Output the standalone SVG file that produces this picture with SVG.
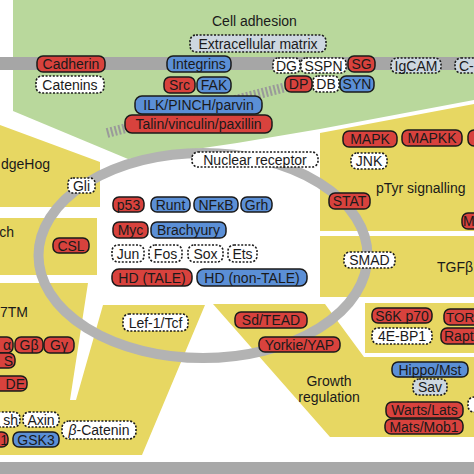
<svg xmlns="http://www.w3.org/2000/svg" width="474" height="474" viewBox="0 0 474 474">
<style>
text{font-family:"Liberation Sans",Arial,sans-serif;font-size:14px;fill:#1a1a1a}
.bx text{text-anchor:middle}
.r rect{fill:#d8423d;stroke:#1a1a1a;stroke-width:1.5}
.b rect{fill:#5b8fd6;stroke:#1a1a1a;stroke-width:1.5}
.w rect{fill:#ffffff;stroke:#1a1a1a;stroke-width:1.6;stroke-dasharray:2 1.6}
.g rect{fill:#cdd7e0;stroke:#1a1a1a;stroke-width:1.6;stroke-dasharray:2 1.6}
.green{fill:#b9d89c}
.yel{fill:#e7d762}
.st{text-anchor:start !important}
.en{text-anchor:end !important}
</style>
<rect x="0" y="0" width="474" height="474" fill="#ffffff"/>
<g id="regions">
<polygon class="green" points="13,0 474,0 474,100 320,129 237,143 128,159 13,111"/>
<polygon class="yel" points="0,125 100,162 100,207 0,207"/>
<rect class="yel" x="0" y="218" width="97" height="57"/>
<polygon class="yel" points="0,283 88,283 70,400 76,400 103,305 205,305 142,455 0,455"/>
<polygon class="yel" points="213,304 325,304 364,357 474,357 474,437 330,437"/>
<polygon class="yel" points="320,133 474,104 474,231 320,231"/>
<rect class="yel" x="320" y="236" width="154" height="61"/>
<rect class="yel" x="365" y="303" width="109" height="50"/>
<rect x="0" y="57" width="474" height="13" fill="#a6a6a6"/>
<rect x="0" y="462" width="474" height="12" fill="#a8a8a8"/>
<ellipse cx="203" cy="255.5" rx="164.5" ry="102.5" fill="none" stroke="#b3b3b3" stroke-width="10"/>
</g>
<g id="labels">
<text x="212" y="26">Cell adhesion</text>
<text x="376" y="193">pTyr signalling</text>
<text x="437" y="272">TGFβ</text>
<text x="329" y="386" text-anchor="middle">Growth</text>
<text x="329" y="402" text-anchor="middle">regulation</text>
<text x="1" y="169">dgeHog</text>
<text x="14" y="237" text-anchor="end">ch</text>
<text x="0" y="317">7TM</text>
</g>
<g id="connectors">
<line x1="107" y1="133" x2="290" y2="86" stroke="#9a9a9a" stroke-width="10" stroke-dasharray="2 2"/>
</g>
<g class="bx">
<g id="cadherin" class="r"><rect x="37" y="56" width="68" height="16" rx="6"/><text x="71" y="69">Cadherin</text></g>
<g id="catenins" class="w"><rect x="36" y="76" width="68" height="17" rx="6"/><text x="70" y="89.5">Catenins</text></g>
<g id="integrins" class="b"><rect x="167" y="56" width="64" height="16" rx="6"/><text x="199" y="69">Integrins</text></g>
<g id="src" class="r"><rect x="164" y="77" width="31" height="16" rx="6"/><text x="179.5" y="90">Src</text></g>
<g id="fak" class="b"><rect x="197" y="77" width="34" height="16" rx="6"/><text x="214" y="90">FAK</text></g>
<g id="ilk" class="b"><rect x="135" y="96" width="127" height="18" rx="7"/><text x="198.5" y="110">ILK/PINCH/parvin</text></g>
<g id="talin" class="r"><rect x="125" y="115" width="147" height="18" rx="7"/><text x="198.5" y="129">Talin/vinculin/paxillin</text></g>
<g id="ecm" class="g"><rect x="190" y="35" width="136" height="17" rx="6"/><text x="258" y="48.5">Extracellular matrix</text></g>
<g id="dg" class="w"><rect x="273" y="58" width="27" height="15" rx="5"/><text x="286.5" y="70.5">DG</text></g>
<g id="sspn" class="w"><rect x="301" y="58" width="45" height="15" rx="5"/><text x="323.5" y="70.5">SSPN</text></g>
<g id="sg" class="r"><rect x="348" y="56" width="27" height="16" rx="6"/><text x="361.5" y="69">SG</text></g>
<g id="igcam" class="g"><rect x="391" y="58" width="50" height="15" rx="6"/><text x="416" y="70.5">IgCAM</text></g>
<g id="ccam" class="g"><rect x="455" y="58" width="45" height="15" rx="6"/><text class="st" x="459" y="70.5">C-</text></g>
<g id="dp" class="r"><rect x="285" y="76" width="27" height="16" rx="6"/><text x="298.5" y="89">DP</text></g>
<g id="db" class="w"><rect x="313" y="76" width="26" height="16" rx="5"/><text x="326" y="89">DB</text></g>
<g id="syn" class="b"><rect x="340" y="76" width="34" height="16" rx="6"/><text x="357" y="89">SYN</text></g>
<g id="mapk" class="r"><rect x="343" y="131" width="54" height="16" rx="6"/><text x="370" y="144">MAPK</text></g>
<g id="mapkk" class="r"><rect x="402" y="130" width="60" height="16" rx="6"/><text x="432" y="143">MAPKK</text></g>
<g id="mapkkk" class="r"><rect x="468" y="130" width="50" height="16" rx="6"/></g>
<g id="jnk" class="w"><rect x="351" y="153" width="36" height="16" rx="6"/><text x="369" y="166">JNK</text></g>
<g id="stat" class="r"><rect x="329" y="193" width="41" height="16" rx="6"/><text x="349.5" y="206">STAT</text></g>
<g id="mek" class="r"><rect x="462" y="213" width="50" height="16" rx="6"/><text class="st" x="463" y="226">M</text></g>
<g id="smad" class="w"><rect x="344" y="252" width="51" height="16" rx="6"/><text x="369.5" y="265">SMAD</text></g>
<g id="s6k" class="r"><rect x="372" y="308" width="60" height="15" rx="6"/><text x="402" y="320.5">S6K p70</text></g>
<g id="4ebp1" class="w"><rect x="372" y="328" width="60" height="16" rx="6"/><text x="402" y="341">4E-BP1</text></g>
<g id="tor" class="r"><rect x="444" y="309" width="56" height="16" rx="6"/><text class="st" x="446" y="322" style="font-size:13.5px">TOR</text></g>
<g id="raptor" class="r"><rect x="441" y="328" width="60" height="16" rx="6"/><text class="st" x="444" y="341">Rapt</text></g>
<g id="hippo" class="b"><rect x="392" y="362" width="76" height="15" rx="6"/><text x="430" y="374.5">Hippo/Mst</text></g>
<g id="sav" class="g"><rect x="413" y="379" width="34" height="16" rx="6"/><text x="430" y="392">Sav</text></g>
<g id="warts" class="r"><rect x="386" y="402" width="77" height="16" rx="6"/><text x="424.5" y="415">Warts/Lats</text></g>
<g id="mats" class="r"><rect x="385" y="419" width="78" height="15" rx="6"/><text x="424" y="431.5">Mats/Mob1</text></g>
<g id="partial" class="w"><rect x="468" y="397" width="40" height="15" rx="6"/></g>
<g id="sdtead" class="r"><rect x="235" y="312" width="72" height="16" rx="6"/><text x="271" y="325">Sd/TEAD</text></g>
<g id="yorkie" class="r"><rect x="259" y="337" width="81" height="15" rx="6"/><text x="299.5" y="349.5">Yorkie/YAP</text></g>
<g id="galpha" class="r"><rect x="-20" y="337" width="33" height="16" rx="6"/><text class="en" x="11" y="350">α</text></g>
<g id="gbeta" class="r"><rect x="15" y="337" width="28" height="16" rx="6"/><text x="29" y="350">Gβ</text></g>
<g id="ggamma" class="r"><rect x="44" y="337" width="30" height="16" rx="6"/><text x="59" y="350">Gγ</text></g>
<g id="rgs" class="r"><rect x="-25" y="353" width="40" height="15" rx="6"/><text class="en" x="13" y="365.5">S</text></g>
<g id="pde" class="r"><rect x="-10" y="376" width="37" height="15" rx="6"/><text class="en" x="25" y="388.5">DE</text></g>
<g id="dsh" class="w"><rect x="-15" y="412" width="35" height="15" rx="6"/><text class="en" x="18" y="424.5">sh</text></g>
<g id="axin" class="w"><rect x="23" y="412" width="36" height="15" rx="6"/><text x="41" y="424.5">Axin</text></g>
<g id="ck1" class="r"><rect x="-30" y="432" width="38" height="15" rx="6"/><text class="en" x="8" y="444.5">1</text></g>
<g id="gsk3" class="b"><rect x="13" y="432" width="46" height="15" rx="6"/><text x="36" y="444.5">GSK3</text></g>
<g id="bcatenin" class="w"><rect x="62" y="421" width="74" height="18" rx="7"/><text x="99" y="435"><tspan font-style="italic">β</tspan>-Catenin</text></g>
<g id="lef1" class="w"><rect x="123" y="314" width="65" height="17" rx="6"/><text x="155.5" y="327.5">Lef-1/Tcf</text></g>
<g id="gli" class="w"><rect x="68" y="178" width="27" height="15" rx="5"/><text x="81.5" y="190.5">Gli</text></g>
<g id="csl" class="r"><rect x="53" y="238" width="36" height="15" rx="6"/><text x="71" y="250.5">CSL</text></g>
<g id="nucrec" class="w"><rect x="192" y="152" width="126" height="15" rx="6"/><text x="255" y="164.5">Nuclear receptor</text></g>
<g id="p53" class="r"><rect x="113" y="197" width="31" height="15" rx="6"/><text x="128.5" y="209.5">p53</text></g>
<g id="runt" class="b"><rect x="151" y="197" width="39" height="15" rx="6"/><text x="170.5" y="209.5">Runt</text></g>
<g id="nfkb" class="b"><rect x="194" y="197" width="44" height="15" rx="6"/><text x="216" y="209.5">NFκB</text></g>
<g id="grh" class="b"><rect x="241" y="197" width="31" height="15" rx="6"/><text x="256.5" y="209.5">Grh</text></g>
<g id="myc" class="r"><rect x="113" y="222" width="35" height="16" rx="6"/><text x="130.5" y="235">Myc</text></g>
<g id="brachyury" class="b"><rect x="151" y="222" width="75" height="16" rx="6"/><text x="188.5" y="235">Brachyury</text></g>
<g id="jun" class="w"><rect x="112" y="245" width="32" height="17" rx="6"/><text x="128" y="258.5">Jun</text></g>
<g id="fos" class="w"><rect x="149" y="245" width="33" height="17" rx="6"/><text x="165.5" y="258.5">Fos</text></g>
<g id="sox" class="w"><rect x="188" y="245" width="35" height="17" rx="6"/><text x="205.5" y="258.5">Sox</text></g>
<g id="ets" class="w"><rect x="228" y="245" width="29" height="17" rx="6"/><text x="242.5" y="258.5">Ets</text></g>
<g id="hdtale" class="r"><rect x="112" y="269" width="80" height="17" rx="7"/><text x="152" y="282.5">HD (TALE)</text></g>
<g id="hdnontale" class="b"><rect x="197" y="269" width="110" height="17" rx="7"/><text x="252" y="282.5">HD (non-TALE)</text></g>
</g>
</svg>
